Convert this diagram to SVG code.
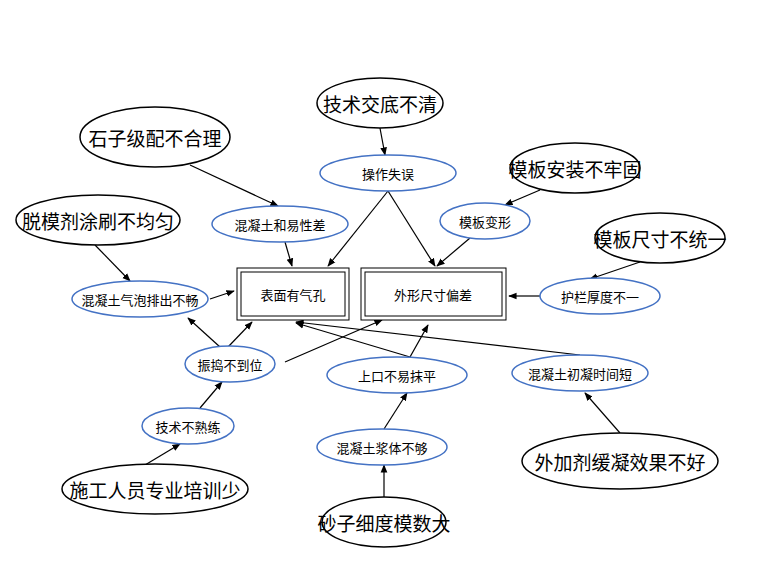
<svg xmlns="http://www.w3.org/2000/svg" width="760" height="570" viewBox="0 0 760 570">
<defs>
<marker id="a" viewBox="0 0 10 10" refX="9" refY="5" markerWidth="7" markerHeight="7" orient="auto"><path d="M0,1 L10,5 L0,9 z" fill="#000"/></marker>
<style>
.b{fill:#fff;stroke:#4472c4;stroke-width:1.5}
.k{fill:#fff;stroke:#000;stroke-width:1.5}
.r{fill:#fff;stroke:#000;stroke-width:1}
text{font-family:"Noto Sans CJK SC","Liberation Sans",sans-serif;text-anchor:middle;dominant-baseline:central;fill:#000}
.s{font-size:13px}
.l{font-size:19px}
.c line{stroke:#000;stroke-width:1.2;marker-end:url(#a)}
</style>
</defs>
<rect width="760" height="570" fill="#fff"/>
<g class="c" id="connectors">
<line x1="380" y1="128" x2="385" y2="155"/>
<line x1="190" y1="165" x2="278" y2="206"/>
<line x1="388" y1="191" x2="328" y2="266"/>
<line x1="388" y1="191" x2="435" y2="266"/>
<line x1="540" y1="190" x2="505" y2="205"/>
<line x1="470" y1="238" x2="437" y2="266"/>
<line x1="285" y1="242" x2="292" y2="266"/>
<line x1="95" y1="245" x2="130" y2="281"/>
<line x1="210" y1="299" x2="234" y2="291"/>
<line x1="640" y1="262" x2="590" y2="279"/>
<line x1="540" y1="296" x2="509" y2="296"/>
<line x1="220" y1="347" x2="188" y2="318"/>
<line x1="228" y1="347" x2="252" y2="322"/>
<line x1="285" y1="362" x2="382" y2="320"/>
<line x1="410" y1="357" x2="428" y2="325"/>
<line x1="410" y1="357" x2="296" y2="323"/>
<line x1="580" y1="355" x2="296" y2="322"/>
<line x1="200" y1="408" x2="222" y2="382"/>
<line x1="145" y1="465" x2="180" y2="444"/>
<line x1="384" y1="429" x2="407" y2="393"/>
<line x1="384" y1="497" x2="384" y2="465"/>
<line x1="620" y1="433" x2="585" y2="393"/>
</g>
<g id="n1"><ellipse class="k" cx="380" cy="103" rx="63" ry="25"/><text class="l" x="380" y="103">技术交底不清</text></g>
<g id="n2"><ellipse class="k" cx="155" cy="137" rx="75" ry="30"/><text class="l" x="155" y="137">石子级配不合理</text></g>
<g id="n3"><ellipse class="k" cx="98" cy="220" rx="82" ry="25"/><text class="l" x="98" y="220">脱模剂涂刷不均匀</text></g>
<g id="n4"><ellipse class="b" cx="388" cy="173" rx="68" ry="18"/><text class="s" x="388" y="173">操作失误</text></g>
<g id="n5"><ellipse class="k" cx="575" cy="168" rx="65" ry="25"/><text class="l" x="575" y="168">模板安装不牢固</text></g>
<g id="n6"><ellipse class="b" cx="280" cy="224" rx="68" ry="18"/><text class="s" x="280" y="224">混凝土和易性差</text></g>
<g id="n7"><ellipse class="b" cx="485" cy="221" rx="45" ry="18"/><text class="s" x="485" y="221">模板变形</text></g>
<g id="n8"><ellipse class="k" cx="660" cy="238" rx="65" ry="25"/><text class="l" x="660" y="238">模板尺寸不统一</text></g>
<g id="n9"><ellipse class="b" cx="140" cy="299" rx="68" ry="18"/><text class="s" x="140" y="299">混凝土气泡排出不畅</text></g>
<g id="n10"><ellipse class="b" cx="600" cy="296" rx="60" ry="18"/><text class="s" x="600" y="296">护栏厚度不一</text></g>
<g id="n11"><rect class="r" x="237" y="268" width="112" height="52"/><rect class="r" x="241" y="272" width="104" height="44"/><text class="s" x="293" y="294">表面有气孔</text></g>
<g id="n12"><rect class="r" x="361" y="268" width="145" height="52"/><rect class="r" x="365" y="272" width="137" height="44"/><text class="s" x="433" y="294">外形尺寸偏差</text></g>
<g id="n13"><ellipse class="b" cx="230" cy="364" rx="45" ry="18"/><text class="s" x="230" y="364">振捣不到位</text></g>
<g id="n14"><ellipse class="b" cx="397" cy="375" rx="70" ry="18"/><text class="s" x="397" y="375">上口不易抹平</text></g>
<g id="n15"><ellipse class="b" cx="580" cy="373" rx="68" ry="18"/><text class="s" x="580" y="373">混凝土初凝时间短</text></g>
<g id="n16"><ellipse class="b" cx="188" cy="426" rx="46" ry="18"/><text class="s" x="188" y="426">技术不熟练</text></g>
<g id="n17"><ellipse class="b" cx="382" cy="447" rx="65" ry="18"/><text class="s" x="382" y="447">混凝土浆体不够</text></g>
<g id="n18"><ellipse class="k" cx="620" cy="461" rx="98" ry="28"/><text class="l" x="620" y="461">外加剂缓凝效果不好</text></g>
<g id="n19"><ellipse class="k" cx="155" cy="489" rx="93" ry="25"/><text class="l" x="155" y="489">施工人员专业培训少</text></g>
<g id="n20"><ellipse class="k" cx="384" cy="522" rx="62" ry="25"/><text class="l" x="384" y="522">砂子细度模数大</text></g>
</svg>
